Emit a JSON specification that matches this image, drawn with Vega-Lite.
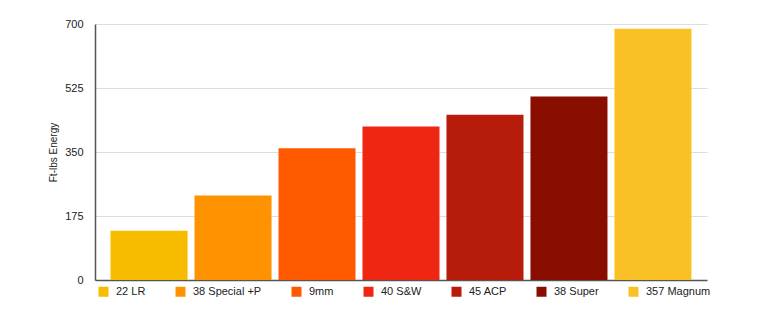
{
  "$schema": "https://vega.github.io/schema/vega-lite/v6.json",
  "autosize": {"type": "none"},
  "width": 612,
  "height": 256,
  "padding": {"left": 95, "top": 24, "right": 61, "bottom": 39},
  "background": "white",
  "config": {
    "font": "Liberation Sans",
    "view": {"stroke": null}
  },
  "data": {
    "values": [
      {"cartridge": "22 LR", "energy": 135, "order": 1},
      {"cartridge": "38 Special +P", "energy": 231, "order": 2},
      {"cartridge": "9mm", "energy": 360, "order": 3},
      {"cartridge": "40 S&W", "energy": 420, "order": 4},
      {"cartridge": "45 ACP", "energy": 452, "order": 5},
      {"cartridge": "38 Super", "energy": 502, "order": 6},
      {"cartridge": "357 Magnum", "energy": 687, "order": 7}
    ]
  },
  "mark": {"type": "bar"},
  "encoding": {
    "x": {
      "field": "cartridge",
      "type": "nominal",
      "sort": {"field": "order"},
      "scale": {"paddingInner": 0.083, "paddingOuter": 0.185},
      "axis": {"labels": false, "ticks": false, "title": null, "domainColor": "#555555", "domainWidth": 1.5}
    },
    "y": {
      "field": "energy",
      "type": "quantitative",
      "scale": {"domain": [0, 700], "nice": false},
      "axis": {
        "values": [0, 175, 350, 525, 700],
        "title": "Ft-lbs Energy",
        "titleFontSize": 10,
        "titleFontWeight": "normal",
        "titleColor": "#222222",
        "titlePadding": 6,
        "labelFontSize": 11,
        "labelColor": "#222222",
        "labelPadding": 12,
        "ticks": false,
        "domainColor": "#555555",
        "domainWidth": 1.5,
        "gridColor": "#dddddd",
        "gridWidth": 1
      }
    },
    "color": {
      "field": "cartridge",
      "type": "nominal",
      "sort": {"field": "order"},
      "scale": {
        "domain": ["22 LR", "38 Special +P", "9mm", "40 S&W", "45 ACP", "38 Super", "357 Magnum"],
        "range": ["#F7BB00", "#FF9200", "#FF5A00", "#EE2612", "#B71B0A", "#8A0E00", "#F9C125"]
      },
      "legend": {
        "title": null,
        "orient": "none",
        "legendX": 3,
        "legendY": 262,
        "direction": "horizontal",
        "columns": 7,
        "columnPadding": 29,
        "symbolType": "square",
        "symbolSize": 100,
        "symbolStrokeWidth": 0,
        "labelFontSize": 11,
        "labelColor": "#222222",
        "labelOffset": 7
      }
    }
  }
}
